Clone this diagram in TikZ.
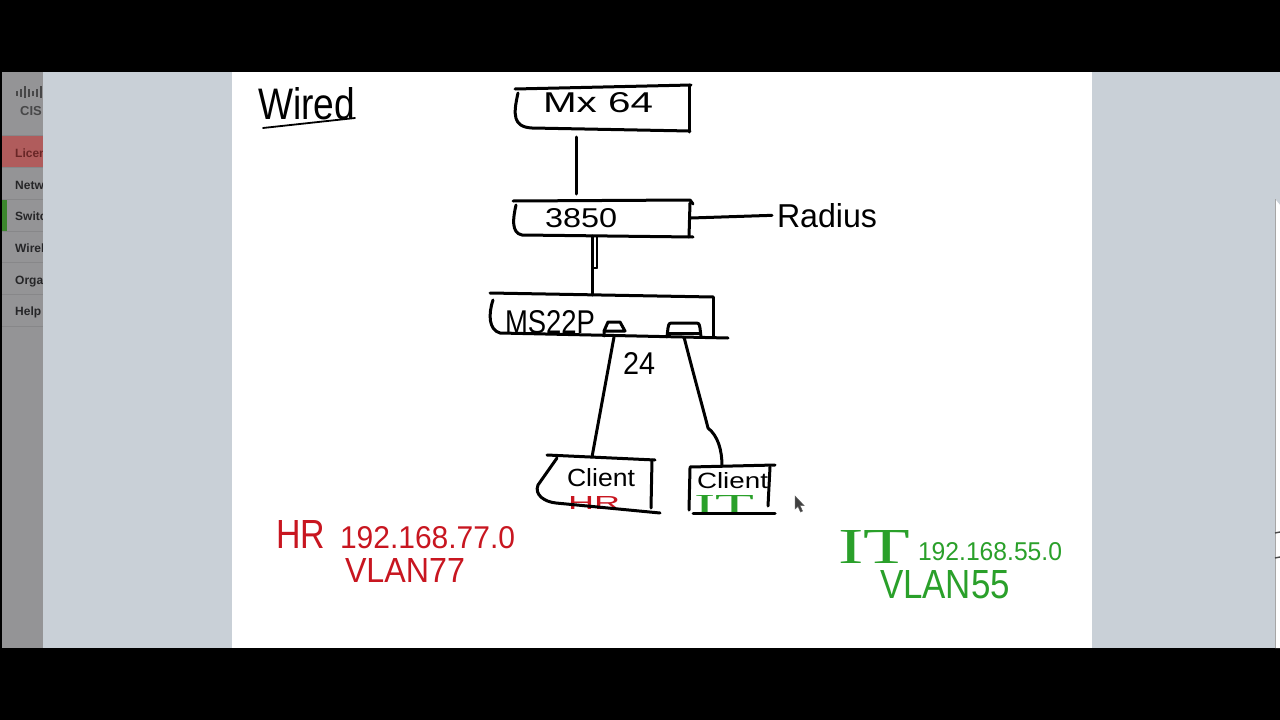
\documentclass[tikz,border=0pt]{standalone}
\usepackage{graphicx}
\usepackage{fontspec}
\setmainfont{Liberation Sans}
\newfontfamily\serifhw{Liberation Serif}
\definecolor{panelgray}{RGB}{201,208,215}
\definecolor{sidegray}{RGB}{148,148,150}
\definecolor{sidetext}{RGB}{38,38,40}
\definecolor{licred}{RGB}{176,92,92}
\definecolor{lictext}{RGB}{105,38,38}
\definecolor{barGreen}{RGB}{60,135,45}
\definecolor{sepgray}{RGB}{135,135,137}
\definecolor{hwred}{RGB}{200,22,32}
\definecolor{hwgreen}{RGB}{42,160,42}
\newcommand{\hw}[3]{\resizebox{#1pt}{#2pt}{#3}}
\begin{document}
\begin{tikzpicture}[x=1pt,y=-1pt,
  ink/.style={line width=3pt, line cap=round, line join=round, black},
  thinink/.style={line width=1.8pt, line cap=round, line join=round, black},
  box/.style={inner sep=0pt, outer sep=0pt, minimum width=#1},
  txt/.style={inner sep=0pt, outer sep=0pt, anchor=base west},
  side/.style={inner sep=0pt, anchor=base west, font=\bfseries\fontsize{12}{14}\selectfont, text=sidetext}]
\useasboundingbox (0,0) rectangle (1280,720);
\fill[black] (0,0) rectangle (1280,720);
% ---- left sidebar
\fill[sidegray] (2,72) rectangle (43,648);
\fill[licred] (2,136) rectangle (43,167);
\fill[barGreen] (2,200) rectangle (7,231);
\foreach \yy in {135,167,199,231,262,294,326} \draw[sepgray, line width=0.6pt] (2,\yy) -- (43,\yy);
\foreach \xx/\hh in {17/3,21/5,25/8,29/5,33/3,37/5,41/8} \draw[sidetext!85, line width=1.4pt] (\xx,94-\hh) -- (\xx,94+\hh/2);
\node[side, font=\bfseries\fontsize{13}{15}\selectfont, text=sidetext!85] (cis) at (20,115) {CIS};
\node[side, text=lictext] (s1) at (15,157) {Licen};
\node[side] (s2) at (15,189) {Netw};
\node[side] (s3) at (15,220) {Switc};
\node[side] (s4) at (15,252) {Wirel};
\node[side] (s5) at (15,284) {Orga};
\node[side] (s6) at (15,315) {Help};
% ---- panels
\fill[panelgray] (43,72) rectangle (232,648);
\fill[white] (232,72) rectangle (1092,648);
\fill[panelgray] (1092,72) rectangle (1280,648);
\fill[white] (1275,199) -- (1280,205) -- (1280,648) -- (1275,648) -- cycle;
\draw[black!35, line width=0.8pt] (1275,199) -- (1275,648);
\draw[black!70, line width=1.4pt] (1275,533) -- (1280,532);
\draw[black!70, line width=1.4pt] (1275,558) -- (1280,557);
% ---- Wired
\node[txt] (wired) at (258,119) {\hw{97}{32}{Wired}};
\draw[thinink] (263,128) -- (355,118);
% ---- MX64
\node[box=174, minimum height=44] (mx) at (603,108) {};
\node[txt] (mxl) at (543,112) {\hw{110}{20}{Mx 64}};
\draw[ink] (515,89) -- (691,85);
\draw[ink] (689,85) -- (689,132);
\draw[ink] (518,93) .. controls (513,115) and (513,127) .. (532,128) -- (690,131);
% ---- 3850
\node[box=176, minimum height=36] (sw) at (603,218) {};
\node[txt] (swl) at (545,227) {\hw{72}{19}{3850}};
\draw[ink] (513,201) -- (690,200) -- (693,204);
\draw[ink] (690,203) -- (689,237);
\draw[ink] (516,205) .. controls (513,218) and (511,233) .. (522,235) -- (693,237);
% ---- Radius
\node[txt] (rad) at (777,227) {\hw{100}{24}{Radius}};
\draw[ink, shorten >=5pt] (sw.east) -- (rad.west);
% ---- MS22P
\node[box=222, minimum height=42] (ms) at (602,316) {};
\node[txt] (msl) at (505,333) {\hw{90}{23}{MS22P}};
\draw[ink] (490,293) -- (713,297);
\draw[ink] (713,297) -- (713,337);
\draw[ink] (493,300) .. controls (488,315) and (489,330) .. (500,333) -- (728,338);
% ports
\node[box=22, minimum height=15] (p1) at (614,329.5) {};
\node[box=34, minimum height=14] (p2) at (684,330) {};
\draw[ink] (604,336) -- (604,331) -- (608,322) -- (620,322) -- (625,331) -- (604,331);
\draw[ink] (667,337) -- (668,328) .. controls (669,323) .. (674,323) -- (694,323) .. controls (699,323) .. (700,328) -- (701,337);
\draw[ink] (668,333) -- (700,333);
% links 1
\draw[ink, shorten <=7pt, shorten >=6pt] ([xshift=-27pt]mx.south) -- ([xshift=-27pt]mx.south |- sw.north);
\draw[ink] ([xshift=-11pt]sw.south) -- ([xshift=-11pt]sw.south |- ms.north);
\draw[thinink] ([xshift=-6pt]sw.south) -- ([xshift=-6pt]sw.south |- 0,268);
\draw[thinink] ([xshift=-11pt]sw.south |- 0,268) -- ([xshift=-6pt]sw.south |- 0,268);
% ---- Client HR
\node[box=112, minimum height=54] (hr) at (598,484) {};
\node[txt] (hrl1) at (567,486) {\hw{68}{18}{Client}};
\node[txt, text=hwred] (hrl2) at (568,509) {\hw{52}{13}{HR}};
\draw[ink] (547,455) -- (655,460);
\draw[ink] (652,460) -- (651,508);
\draw[ink] (557,458) -- (538,485) .. controls (534,495) and (545,502) .. (556,503) -- (660,513);
% ---- Client IT
\node[box=86, minimum height=46] (itc) at (731,489) {};
\node[txt] (itl1) at (697,488) {\hw{71}{16}{Client}};
\node[txt, text=hwgreen] (itl2) at (694,513) {\hw{60}{18}{\serifhw IT}};
\draw[ink] (690,467) -- (775,465);
\draw[ink] (690,468) -- (689,510);
\draw[ink] (693,513) -- (775,513);
\draw[ink] (770,467) -- (768,506);
% links 2
\draw[ink] (p1.south) -- ([xshift=-6pt]hr.north);
\draw[ink] (p2.south) .. controls (695,380) and (704,412) .. (708,428) .. controls (718,436) and (722,450) .. ([xshift=-9pt]itc.north);
\node[txt] (port24) at (623,374) {\hw{32}{22}{24}};
% cursor
\filldraw[fill=black!75, draw=black!60, line width=0.5pt] (795,496) -- (795,509) -- (798,506.5) -- (800.5,512) -- (802.5,511) -- (800,505.5) -- (804,505.5) -- cycle;
% ---- HR subnet
\node[txt, text=hwred] (hrbig) at (276,548) {\hw{49}{28}{HR}};
\node[txt, text=hwred] (hrip) at (340,548) {\hw{175}{22}{192.168.77.0}};
\node[txt, text=hwred] (hrvlan) at (345,582) {\hw{120}{24}{VLAN77}};
% ---- IT subnet
\node[txt, text=hwgreen] (itbig) at (838,563) {\hw{72}{33}{\serifhw IT}};
\node[txt, text=hwgreen] (itip) at (918,560) {\hw{144}{18}{192.168.55.0}};
\node[txt, text=hwgreen] (itvlan) at (880,598) {\hw{130}{28}{VLAN55}};
\end{tikzpicture}
\end{document}
